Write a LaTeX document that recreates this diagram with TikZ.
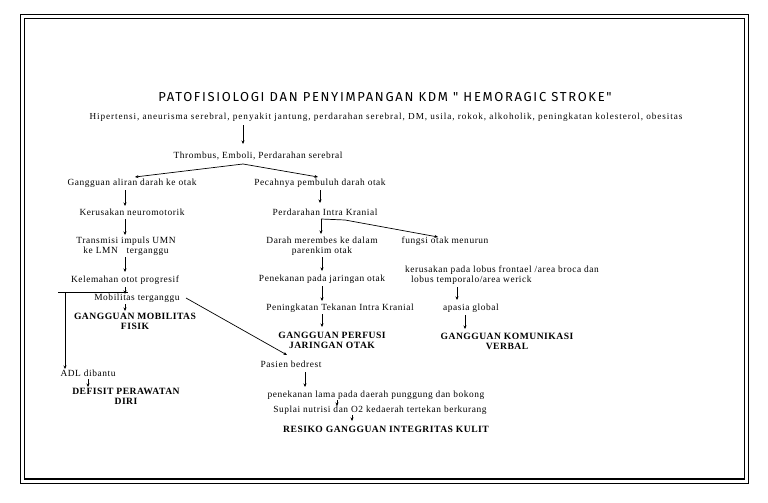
\documentclass[tikz,border=0pt]{standalone}
\usepackage{fontspec}
\setmainfont{Liberation Serif}
\newfontfamily\titlefont{Fira Sans}
\usetikzlibrary{arrows.meta}
\begin{document}
\begin{tikzpicture}[x=1pt,y=-1pt,
  txt/.style={inner sep=0pt,align=center,font=\fontsize{9.4}{10}\selectfont\addfontfeature{LetterSpace=6}},
  bold/.style={txt,font=\fontsize{9.6}{10}\selectfont\bfseries\addfontfeature{LetterSpace=5}},
  arr/.style={-{Stealth[length=3.5pt,width=3pt]},line width=0.7pt},
  lin/.style={line width=0.7pt}]
\useasboundingbox (0,0) rectangle (768,503);
\draw[line width=0.6pt] (20,14) rectangle (748,483);
\draw[line width=1.6pt] (24.5,18.5) rectangle (744.5,479);
\node[inner sep=0pt,font=\titlefont\fontsize{13}{14}\selectfont\addfontfeature{LetterSpace=13}] (title) at (385,97) {PATOFISIOLOGI DAN PENYIMPANGAN KDM " HEMORAGIC STROKE"};
\node[txt,font=\fontsize{9.2}{10}\selectfont\addfontfeature{LetterSpace=10}] (cause) at (386,117) {Hipertensi, aneurisma serebral, penyakit jantung, perdarahan serebral, DM, usila, rokok, alkoholik, peningkatan kolesterol, obesitas};
\node[txt] (thr) at (258,156) {Thrombus, Emboli, Perdarahan serebral};
\coordinate (apex) at (243,164);
\draw[arr] (243,125) -- (243,144);
% left column
\node[txt] (g1) at (132,183) {Gangguan aliran darah ke otak};
\node[txt] (g2) at (132,212) {Kerusakan neuromotorik};
\node[txt] (g3) at (126,246) {Transmisi impuls UMN\\ke LMN \ \ terganggu};
\node[txt] (g4) at (125,280) {Kelemahan otot progresif};
\node[txt] (g5) at (137,298) {Mobilitas terganggu};
\node[bold] (g6) at (135,321) {GANGGUAN MOBILITAS\\FISIK};
\node[txt] (adl) at (88,373) {ADL dibantu};
\node[bold] (dp) at (126,396) {DEFISIT PERAWATAN\\DIRI};
\draw[arr] (apex) -- (135,177);
\draw[arr] (apex) -- (318,177);
\draw[arr] (125,190) -- (125,206);
\draw[arr] (125,219) -- (125,235);
\draw[arr] (125,257) -- (125,272);
\draw[arr] (125,287) -- (125,294);
\draw[arr] (125,304) -- (125,311);
\coordinate (hl) at (58,292);
\coordinate (hv) at (65,292);
\draw[lin] (hl) -- (128,292);
\draw[arr] (hv) -- (65,369);
\draw[arr] (88,379) -- (88,387);
% middle column
\node[txt] (m1) at (320,183) {Pecahnya pembuluh darah otak};
\node[txt] (m2) at (325,212) {Perdarahan Intra Kranial};
\node[txt] (m3) at (322,246) {Darah merembes ke dalam\\parenkim otak};
\node[txt] (m4) at (322,279) {Penekanan pada jaringan otak};
\node[txt] (m5) at (340,308) {Peningkatan Tekanan Intra Kranial};
\node[bold] (m6) at (332,340) {GANGGUAN PERFUSI\\JARINGAN OTAK};
\draw[arr] (320,190) -- (320,203);
\draw[arr] (321,219) -- (321,234);
\coordinate (br) at (345,220);
\draw[arr] (321,219) -- (br) -- (438,237);
\draw[arr] (322,257) -- (322,271);
\draw[arr] (322,286) -- (322,301);
\draw[arr] (322,314) -- (322,327);
% right column
\node[txt] (r1) at (445,241) {fungsi otak menurun};
\node[txt,align=left,anchor=west] (r2) at (405,275) {kerusakan pada lobus frontael /area broca dan\\\ \ lobus temporalo/area werick};
\node[txt] (r3) at (471,308) {apasia global};
\node[bold] (r4) at (507,341) {GANGGUAN KOMUNIKASI\\VERBAL};
\draw[arr] (457,287) -- (457,300);
\draw[arr] (465,315) -- (465,329);
% bottom
\node[txt] (b1) at (291,364) {Pasien bedrest};
\node[txt] (b2) at (376,395) {penekanan lama pada daerah punggung dan bokong};
\node[txt] (b3) at (380,410) {Suplai nutrisi dan O2 kedaerah tertekan berkurang};
\node[bold] (b4) at (386,429) {RESIKO GANGGUAN INTEGRITAS KULIT};
\draw[arr] (186,298) -- (287,355);
\draw[arr] (305,372) -- (305,387);
\draw[arr] (337,400) -- (337,406);
\draw[arr] (352,415) -- (352,421);
\end{tikzpicture}
\end{document}
